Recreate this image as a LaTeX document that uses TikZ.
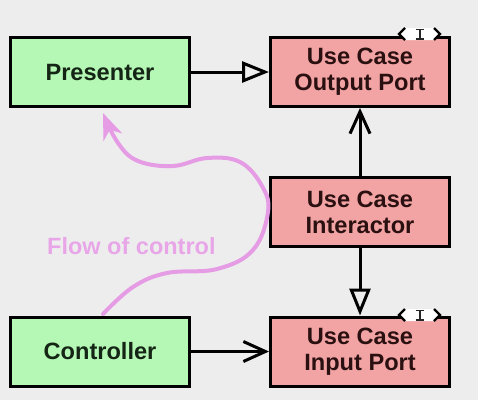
\documentclass[tikz,border=0pt]{standalone}
\usepackage{fontspec}
\setmainfont{Liberation Sans}
\usetikzlibrary{arrows.meta}
\definecolor{bgc}{HTML}{EDEDED}
\definecolor{greenf}{HTML}{B5F7B5}
\definecolor{pinkf}{HTML}{F2A3A3}
\definecolor{flowc}{HTML}{E59CE5}
\definecolor{flowt}{HTML}{E8A6E8}
\definecolor{gtext}{HTML}{152515}
\definecolor{ptext}{HTML}{2A1010}
\tikzset{
  box/.style={draw=black, line width=3pt, minimum width=179pt, minimum height=69pt,
    align=center, font=\bfseries\fontsize{23.6}{26}\selectfont, inner sep=0pt},
  gbox/.style={box, fill=greenf, text=gtext},
  pbox/.style={box, fill=pinkf, text=ptext},
  conn/.style={draw=black, line width=3pt},
  realize/.style={conn, -{Triangle[open, length=27pt, width=21pt, line width=3pt]}},
  uses/.style={conn, -{Straight Barb[length=22pt, width=20pt, line width=3pt]}},
  iface/.style={fill=white, draw=none},
  chev/.style={draw=black, line width=2.2pt, line join=miter},
  ibar/.style={draw=black!85, line width=2pt},
  iserif/.style={draw=black!85, line width=1.4pt},
  flow/.style={draw=flowc, line width=4pt, line cap=round,
    -{Stealth[length=26pt, width=20pt, inset=8pt]}},
}
\begin{document}
\begin{tikzpicture}[x=1pt, y=-1pt]
\fill[bgc] (0,0) rectangle (478,400);
\useasboundingbox (0,0) rectangle (478,400);

\node[gbox] (pres) at (100,72) {Presenter};
\node[pbox] (outp) at (360,72) {Use Case\\Output Port};
\node[pbox] (inter) at (360,212) {Use Case\\Interactor};
\node[gbox] (ctrl) at (100,351.5) {Controller};
\node[pbox] (inp) at (360,351.5) {Use Case\\Input Port};

% interface markers
\foreach \cy in {34, 315} {
  \fill[iface] (398,\cy) -- (404,\cy-6) -- (435,\cy-6) -- (441,\cy) -- (435,\cy+6) -- (404,\cy+6) -- cycle;
  \draw[chev] (405,\cy-6) -- (399,\cy) -- (405,\cy+6);
  \draw[chev] (434,\cy-6) -- (440,\cy) -- (434,\cy+6);
  \draw[ibar] (419.5,\cy-4.5) -- (419.5,\cy+4.5);
  \draw[iserif] (415.5,\cy-4.8) -- (423.5,\cy-4.8);
  \draw[iserif] (415.5,\cy+4.8) -- (423.5,\cy+4.8);
}

\draw[realize] (pres) -- (outp);
\draw[uses] (inter) -- (outp);
\draw[realize] (inter) -- (inp);
\draw[uses] (ctrl) -- (inp);

\coordinate (fs) at (103,314);
\coordinate (fe) at (103,113);
\draw[flow] plot[smooth, tension=0.65] coordinates {(fs) (133,287) (167,273) (217,269) (253,250) (268,212) (262,186) (240,162) (207,158) (173,166) (138,161) (118,143) (fe)};

\node[font=\bfseries\fontsize{23.5}{24}\selectfont, text=flowt, anchor=west, inner sep=0pt] (flowlbl) at (47,246) {Flow of control};
\end{tikzpicture}
\end{document}
